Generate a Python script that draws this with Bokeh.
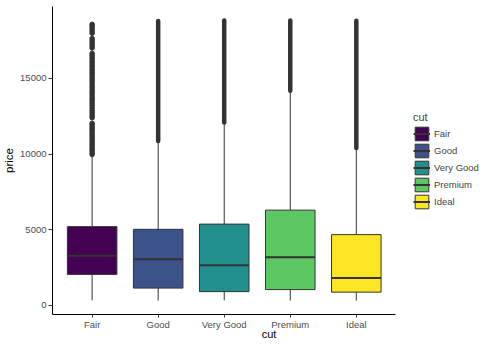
from bokeh.plotting import figure
from bokeh.models import ColumnDataSource, Range1d, FixedTicker, Legend, LegendItem, Title
from bokeh.transform import dodge
from bokeh.embed import file_html
from bokeh.resources import INLINE

cuts = ["Fair", "Good", "Very Good", "Premium", "Ideal"]
colors = ["#440154", "#3B528B", "#21908C", "#5DC863", "#FDE725"]
q1 = [2050, 1145, 912, 1046, 878]
median = [3282, 3050, 2648, 3185, 1810]
q3 = [5206, 5028, 5373, 6296, 4678]
whisk_lo = [337, 327, 336, 326, 326]
whisk_hi = [9836, 10836, 12059, 14160, 10376]

# dense outlier columns (points overlap into a solid band)
band_cuts = ["Good", "Very Good", "Premium", "Ideal"]
band_lo = [10870, 12080, 14180, 10400]
band_hi = [18788, 18818, 18823, 18806]

# sparse outliers for Fair
fair_outliers = [
    9968, 10080, 10200, 10310, 10420, 10540, 10650, 10770, 10880, 11000,
    11120, 11230, 11350, 11470, 11590, 11700, 11820, 11940, 12040,
    12400, 12520, 12640, 12780, 12900, 13050, 13200, 13340, 13480, 13600,
    13720, 13860, 14000, 14120, 14240, 14380, 14500, 14640,
    14780, 14900, 15020, 15150, 15280, 15400, 15530, 15650, 15780, 15900,
    16030, 16150, 16280, 16400, 16530, 16650,
    17000, 17130, 17260, 17390, 17520, 17640,
    17980, 18100, 18230, 18360, 18470, 18574,
]

xpos = [i + 1 for i in range(len(cuts))]
src = ColumnDataSource(dict(x=xpos, cut=cuts, color=colors, q1=q1, med=median,
                            q3=q3, wlo=whisk_lo, whi=whisk_hi))
bx = [xpos[cuts.index(c)] for c in band_cuts]
bsrc = ColumnDataSource(dict(x=bx, lo=band_lo, hi=band_hi))
fsrc = ColumnDataSource(dict(x=[xpos[0]] * len(fair_outliers), y=fair_outliers))

p = figure(width=485, height=346, x_range=Range1d(0.4, 6.956), y_range=Range1d(-599, 19748),
           output_backend="svg", toolbar_location=None,
           min_border_left=49, min_border_right=0, min_border_top=6, min_border_bottom=0)

GREY20 = "#333333"
# whiskers
p.segment(x0="x", y0="wlo", x1="x", y1="q1", line_color=GREY20, line_width=1, source=src)
p.segment(x0="x", y0="q3", x1="x", y1="whi", line_color=GREY20, line_width=1, source=src)
# outliers
p.segment(x0="x", y0="lo", x1="x", y1="hi", line_color=GREY20, line_width=4.5,
          line_cap="round", source=bsrc)
p.scatter(x="x", y="y", size=4.5, fill_color=GREY20, line_color=GREY20, source=fsrc)
# boxes
box = p.vbar(x="x", width=0.75, bottom="q1", top="q3", fill_color="color",
             line_color=GREY20, line_width=1, source=src)
med = p.segment(x0=dodge("x", -0.375), y0="med", x1=dodge("x", 0.375), y1="med",
                line_color=GREY20, line_width=2, source=src)

# axes
p.xaxis.ticker = FixedTicker(ticks=xpos)
p.xaxis.bounds = (0.4, 5.6)
p.xaxis.major_label_overrides = {x: c for x, c in zip(xpos, cuts)}
p.yaxis.ticker = FixedTicker(ticks=[0, 5000, 10000, 15000])
p.xaxis.axis_label = "cut"
p.yaxis.axis_label = "price"
for ax in (p.xaxis, p.yaxis):
    ax.axis_line_color = "#000000"
    ax.axis_line_width = 1
    ax.major_tick_line_color = GREY20
    ax.major_tick_out = 4
    ax.major_tick_in = 0
    ax.minor_tick_line_color = None
    ax.major_label_text_font = "Liberation Sans"
    ax.major_label_text_font_size = "9.5px"
    ax.major_label_text_color = "#4D4D4D"
    ax.axis_label_text_font = "Liberation Sans"
    ax.axis_label_text_font_size = "11.5px"
    ax.axis_label_text_font_style = "normal"
    ax.axis_label_text_color = "#000000"
    ax.major_label_standoff = 2
    ax.axis_label_standoff = 2
p.xaxis.major_tick_out = 3
p.xaxis.major_label_standoff = 1
p.xaxis.axis_label_standoff = -5
p.xaxis.axis_label_text_font_size = "11px"
p.grid.visible = False
p.outline_line_color = None

# thin spacer below the x-axis title
p.add_layout(Title(text=" ", text_font_size="2px", standoff=0, offset=0), "below")

items = [LegendItem(label=c, renderers=[box, med], index=i) for i, c in enumerate(cuts)]
legend = Legend(items=items, title="cut", location=(361, 104),
                title_text_font="Liberation Sans", title_text_font_size="11px",
                title_text_font_style="normal", title_standoff=2,
                label_text_font="Liberation Sans", label_text_font_size="9.5px",
                glyph_width=17, glyph_height=17, spacing=0, label_standoff=4,
                padding=0, margin=0, border_line_color=None,
                background_fill_alpha=0)
p.add_layout(legend)

open("out.html", "w").write(file_html(p, INLINE))
